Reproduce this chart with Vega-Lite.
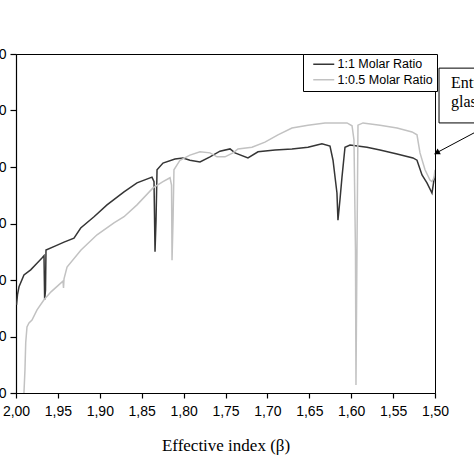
{
  "$schema": "https://vega.github.io/schema/vega-lite/v6.json",
  "autosize": "none",
  "width": 419,
  "height": 339,
  "padding": {"left": 16, "top": 54, "right": 39, "bottom": 81},
  "background": "white",
  "config": {
    "view": {"stroke": "black", "strokeWidth": 1},
    "axis": {"domainColor": "black", "tickColor": "black", "labelColor": "black", "grid": false, "labelFont": "Liberation Sans", "labelFontSize": 14, "domainWidth": 1.2, "tickWidth": 1.2}
  },
  "datasets": {
    "curves": [
      {"x": 1.9994, "y": 15.6, "s": "1:1 Molar Ratio"},
      {"x": 1.9982, "y": 17.4, "s": "1:1 Molar Ratio"},
      {"x": 1.9964, "y": 18.8, "s": "1:1 Molar Ratio"},
      {"x": 1.9905, "y": 20.9, "s": "1:1 Molar Ratio"},
      {"x": 1.9825, "y": 21.8, "s": "1:1 Molar Ratio"},
      {"x": 1.9761, "y": 22.8, "s": "1:1 Molar Ratio"},
      {"x": 1.9690, "y": 23.9, "s": "1:1 Molar Ratio"},
      {"x": 1.9666, "y": 24.3, "s": "1:1 Molar Ratio"},
      {"x": 1.9658, "y": 16.5, "s": "1:1 Molar Ratio"},
      {"x": 1.9648, "y": 18.2, "s": "1:1 Molar Ratio"},
      {"x": 1.9642, "y": 25.3, "s": "1:1 Molar Ratio"},
      {"x": 1.9535, "y": 26.0, "s": "1:1 Molar Ratio"},
      {"x": 1.9427, "y": 26.7, "s": "1:1 Molar Ratio"},
      {"x": 1.9308, "y": 27.4, "s": "1:1 Molar Ratio"},
      {"x": 1.9228, "y": 29.2, "s": "1:1 Molar Ratio"},
      {"x": 1.9069, "y": 31.2, "s": "1:1 Molar Ratio"},
      {"x": 1.8914, "y": 33.3, "s": "1:1 Molar Ratio"},
      {"x": 1.8711, "y": 35.6, "s": "1:1 Molar Ratio"},
      {"x": 1.8556, "y": 37.2, "s": "1:1 Molar Ratio"},
      {"x": 1.8377, "y": 38.2, "s": "1:1 Molar Ratio"},
      {"x": 1.8353, "y": 37.4, "s": "1:1 Molar Ratio"},
      {"x": 1.8341, "y": 25.0, "s": "1:1 Molar Ratio"},
      {"x": 1.8329, "y": 30.6, "s": "1:1 Molar Ratio"},
      {"x": 1.8317, "y": 39.5, "s": "1:1 Molar Ratio"},
      {"x": 1.8246, "y": 40.7, "s": "1:1 Molar Ratio"},
      {"x": 1.8103, "y": 41.4, "s": "1:1 Molar Ratio"},
      {"x": 1.8007, "y": 41.6, "s": "1:1 Molar Ratio"},
      {"x": 1.7924, "y": 41.2, "s": "1:1 Molar Ratio"},
      {"x": 1.7804, "y": 40.9, "s": "1:1 Molar Ratio"},
      {"x": 1.7685, "y": 41.8, "s": "1:1 Molar Ratio"},
      {"x": 1.7566, "y": 42.8, "s": "1:1 Molar Ratio"},
      {"x": 1.7446, "y": 43.2, "s": "1:1 Molar Ratio"},
      {"x": 1.7387, "y": 42.5, "s": "1:1 Molar Ratio"},
      {"x": 1.7232, "y": 41.6, "s": "1:1 Molar Ratio"},
      {"x": 1.7112, "y": 42.7, "s": "1:1 Molar Ratio"},
      {"x": 1.6909, "y": 43.0, "s": "1:1 Molar Ratio"},
      {"x": 1.6707, "y": 43.2, "s": "1:1 Molar Ratio"},
      {"x": 1.6516, "y": 43.5, "s": "1:1 Molar Ratio"},
      {"x": 1.6349, "y": 44.1, "s": "1:1 Molar Ratio"},
      {"x": 1.6253, "y": 43.7, "s": "1:1 Molar Ratio"},
      {"x": 1.6217, "y": 41.2, "s": "1:1 Molar Ratio"},
      {"x": 1.6170, "y": 35.4, "s": "1:1 Molar Ratio"},
      {"x": 1.6158, "y": 30.6, "s": "1:1 Molar Ratio"},
      {"x": 1.6134, "y": 34.2, "s": "1:1 Molar Ratio"},
      {"x": 1.6110, "y": 38.2, "s": "1:1 Molar Ratio"},
      {"x": 1.6074, "y": 43.5, "s": "1:1 Molar Ratio"},
      {"x": 1.6014, "y": 43.9, "s": "1:1 Molar Ratio"},
      {"x": 1.5812, "y": 43.5, "s": "1:1 Molar Ratio"},
      {"x": 1.5656, "y": 43.0, "s": "1:1 Molar Ratio"},
      {"x": 1.5453, "y": 42.3, "s": "1:1 Molar Ratio"},
      {"x": 1.5263, "y": 41.6, "s": "1:1 Molar Ratio"},
      {"x": 1.5215, "y": 41.2, "s": "1:1 Molar Ratio"},
      {"x": 1.5155, "y": 38.6, "s": "1:1 Molar Ratio"},
      {"x": 1.5096, "y": 37.2, "s": "1:1 Molar Ratio"},
      {"x": 1.5036, "y": 35.4, "s": "1:1 Molar Ratio"},
      {"x": 1.5012, "y": 37.7, "s": "1:1 Molar Ratio"},
      {"x": 1.5000, "y": 38.6, "s": "1:1 Molar Ratio"},
      {"x": 1.9905, "y": 0.0, "s": "1:0.5 Molar Ratio"},
      {"x": 1.9893, "y": 4.1, "s": "1:0.5 Molar Ratio"},
      {"x": 1.9884, "y": 8.9, "s": "1:0.5 Molar Ratio"},
      {"x": 1.9869, "y": 11.7, "s": "1:0.5 Molar Ratio"},
      {"x": 1.9845, "y": 12.4, "s": "1:0.5 Molar Ratio"},
      {"x": 1.9809, "y": 12.9, "s": "1:0.5 Molar Ratio"},
      {"x": 1.9749, "y": 14.7, "s": "1:0.5 Molar Ratio"},
      {"x": 1.9666, "y": 16.5, "s": "1:0.5 Molar Ratio"},
      {"x": 1.9582, "y": 17.9, "s": "1:0.5 Molar Ratio"},
      {"x": 1.9463, "y": 19.5, "s": "1:0.5 Molar Ratio"},
      {"x": 1.9439, "y": 19.8, "s": "1:0.5 Molar Ratio"},
      {"x": 1.9433, "y": 18.6, "s": "1:0.5 Molar Ratio"},
      {"x": 1.9427, "y": 20.2, "s": "1:0.5 Molar Ratio"},
      {"x": 1.9391, "y": 22.3, "s": "1:0.5 Molar Ratio"},
      {"x": 1.9224, "y": 25.3, "s": "1:0.5 Molar Ratio"},
      {"x": 1.9033, "y": 28.0, "s": "1:0.5 Molar Ratio"},
      {"x": 1.8831, "y": 30.1, "s": "1:0.5 Molar Ratio"},
      {"x": 1.8711, "y": 31.2, "s": "1:0.5 Molar Ratio"},
      {"x": 1.8556, "y": 33.3, "s": "1:0.5 Molar Ratio"},
      {"x": 1.8365, "y": 36.3, "s": "1:0.5 Molar Ratio"},
      {"x": 1.8246, "y": 37.4, "s": "1:0.5 Molar Ratio"},
      {"x": 1.8162, "y": 38.1, "s": "1:0.5 Molar Ratio"},
      {"x": 1.8144, "y": 36.8, "s": "1:0.5 Molar Ratio"},
      {"x": 1.8138, "y": 23.5, "s": "1:0.5 Molar Ratio"},
      {"x": 1.8126, "y": 30.6, "s": "1:0.5 Molar Ratio"},
      {"x": 1.8115, "y": 39.5, "s": "1:0.5 Molar Ratio"},
      {"x": 1.8043, "y": 41.2, "s": "1:0.5 Molar Ratio"},
      {"x": 1.7924, "y": 42.1, "s": "1:0.5 Molar Ratio"},
      {"x": 1.7804, "y": 42.7, "s": "1:0.5 Molar Ratio"},
      {"x": 1.7685, "y": 42.5, "s": "1:0.5 Molar Ratio"},
      {"x": 1.7601, "y": 41.8, "s": "1:0.5 Molar Ratio"},
      {"x": 1.7506, "y": 41.8, "s": "1:0.5 Molar Ratio"},
      {"x": 1.7411, "y": 42.5, "s": "1:0.5 Molar Ratio"},
      {"x": 1.7351, "y": 43.2, "s": "1:0.5 Molar Ratio"},
      {"x": 1.7184, "y": 43.5, "s": "1:0.5 Molar Ratio"},
      {"x": 1.7029, "y": 44.4, "s": "1:0.5 Molar Ratio"},
      {"x": 1.6874, "y": 45.7, "s": "1:0.5 Molar Ratio"},
      {"x": 1.6707, "y": 46.9, "s": "1:0.5 Molar Ratio"},
      {"x": 1.6516, "y": 47.4, "s": "1:0.5 Molar Ratio"},
      {"x": 1.6313, "y": 47.8, "s": "1:0.5 Molar Ratio"},
      {"x": 1.6050, "y": 47.8, "s": "1:0.5 Molar Ratio"},
      {"x": 1.5990, "y": 47.3, "s": "1:0.5 Molar Ratio"},
      {"x": 1.5967, "y": 44.8, "s": "1:0.5 Molar Ratio"},
      {"x": 1.5949, "y": 25.3, "s": "1:0.5 Molar Ratio"},
      {"x": 1.5943, "y": 1.4, "s": "1:0.5 Molar Ratio"},
      {"x": 1.5931, "y": 25.3, "s": "1:0.5 Molar Ratio"},
      {"x": 1.5919, "y": 47.4, "s": "1:0.5 Molar Ratio"},
      {"x": 1.5859, "y": 47.8, "s": "1:0.5 Molar Ratio"},
      {"x": 1.5656, "y": 47.4, "s": "1:0.5 Molar Ratio"},
      {"x": 1.5453, "y": 46.9, "s": "1:0.5 Molar Ratio"},
      {"x": 1.5274, "y": 46.2, "s": "1:0.5 Molar Ratio"},
      {"x": 1.5215, "y": 45.7, "s": "1:0.5 Molar Ratio"},
      {"x": 1.5179, "y": 42.5, "s": "1:0.5 Molar Ratio"},
      {"x": 1.5119, "y": 39.5, "s": "1:0.5 Molar Ratio"},
      {"x": 1.5060, "y": 37.7, "s": "1:0.5 Molar Ratio"},
      {"x": 1.5036, "y": 37.4, "s": "1:0.5 Molar Ratio"},
      {"x": 1.5012, "y": 38.1, "s": "1:0.5 Molar Ratio"},
      {"x": 1.5000, "y": 39.5, "s": "1:0.5 Molar Ratio"}
    ],
    "box": [{"x": 1.4952, "x2": 1.43, "y": 57.5, "y2": 47.8}],
    "notes": [
      {"x": 1.4809, "y": 54.9, "t": "Entrance to"},
      {"x": 1.4809, "y": 51.5, "t": "glass"}
    ],
    "arrow": [{"x": 1.4463, "y": 46.6, "x2": 1.4970, "y2": 42.6}],
    "head": [{"x": 1.4970, "y": 42.6}]
  },
  "layer": [
    {
      "data": {"name": "curves"},
      "mark": {"type": "line", "strokeWidth": 1.5, "clip": true},
      "encoding": {
        "x": {
          "field": "x", "type": "quantitative",
          "scale": {"domain": [1.5, 2.0], "reverse": true, "nice": false, "zero": false},
          "axis": {
            "title": "Effective index (β)",
            "titleFont": "Liberation Serif", "titleFontSize": 17, "titleFontWeight": "normal", "titleColor": "black", "titlePadding": 19,
            "values": [2.0, 1.975, 1.95, 1.925, 1.9, 1.875, 1.85, 1.825, 1.8, 1.775, 1.75, 1.725, 1.7, 1.675, 1.65, 1.625, 1.6, 1.575, 1.55, 1.525, 1.5],
            "labelExpr": "round(datum.value*1000) % 50 == 0 ? replace(format(datum.value, '.2f'), '.', ',') : ''",
            "tickSize": {"condition": {"test": "round(datum.value*1000) % 50 == 0", "value": 5}, "value": 3},
            "labelPadding": 6, "labelFlush": false, "labelOverlap": false
          }
        },
        "y": {
          "field": "y", "type": "quantitative",
          "scale": {"domain": [0, 60], "nice": false},
          "axis": {
            "title": null,
            "values": [0, 5, 10, 15, 20, 25, 30, 35, 40, 45, 50, 55, 60],
            "labelExpr": "datum.value % 10 == 0 ? format(datum.value, 'd') : ''",
            "tickSize": {"condition": {"test": "datum.value % 10 == 0", "value": 6}, "value": 3},
            "labelPadding": 4, "labelOverlap": false
          }
        },
        "color": {
          "field": "s", "type": "nominal",
          "scale": {"domain": ["1:1 Molar Ratio", "1:0.5 Molar Ratio"], "range": ["#353535", "#c2c2c2"]},
          "legend": {
            "orient": "none", "legendX": 287, "legendY": 0, "title": null,
            "strokeColor": "black", "fillColor": "white", "padding": 4,
            "symbolType": "M-3,0H3", "symbolSize": 49, "symbolStrokeWidth": 1.5, "symbolOffset": 10.5,
            "labelOffset": 7.5, "labelFont": "Liberation Sans", "labelFontSize": 12.5, "labelColor": "black",
            "rowPadding": 2.5, "cornerRadius": 0
          }
        }
      }
    },
    {
      "data": {"name": "box"},
      "mark": {"type": "rect", "fill": "white", "stroke": "black", "strokeWidth": 1},
      "encoding": {
        "x": {"field": "x", "type": "quantitative"},
        "x2": {"field": "x2"},
        "y": {"field": "y", "type": "quantitative"},
        "y2": {"field": "y2"}
      }
    },
    {
      "data": {"name": "notes"},
      "mark": {"type": "text", "align": "left", "baseline": "middle", "font": "Liberation Serif", "fontSize": 16, "color": "black"},
      "encoding": {
        "x": {"field": "x", "type": "quantitative"},
        "y": {"field": "y", "type": "quantitative"},
        "text": {"field": "t"}
      }
    },
    {
      "data": {"name": "arrow"},
      "mark": {"type": "rule", "color": "black", "strokeWidth": 1},
      "encoding": {
        "x": {"field": "x", "type": "quantitative"},
        "y": {"field": "y", "type": "quantitative"},
        "x2": {"field": "x2"},
        "y2": {"field": "y2"}
      }
    },
    {
      "data": {"name": "head"},
      "mark": {"type": "point", "shape": "triangle", "filled": true, "color": "black", "size": 45, "angle": 242, "opacity": 1},
      "encoding": {
        "x": {"field": "x", "type": "quantitative"},
        "y": {"field": "y", "type": "quantitative"}
      }
    }
  ]
}
